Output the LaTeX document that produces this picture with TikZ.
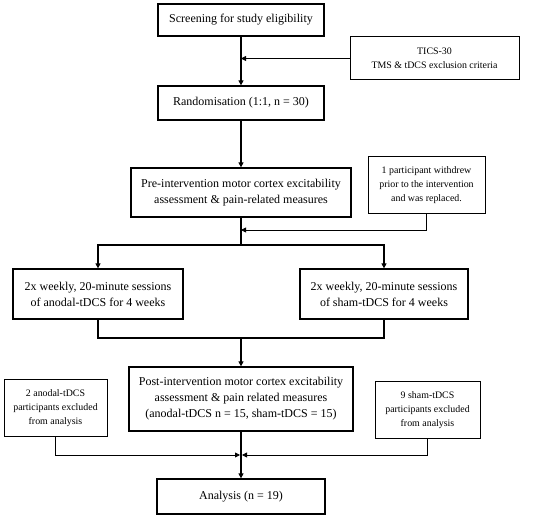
\documentclass[tikz,border=0pt]{standalone}
\usepackage{fontspec}
\setmainfont{Liberation Serif}
\usetikzlibrary{arrows.meta,positioning}

\begin{document}
\begin{tikzpicture}[x=1pt,y=-1pt,
  box/.style={draw,line width=1.3pt,align=center,inner sep=1pt,font=\fontsize{12}{16}\selectfont},
  side/.style={draw,line width=1pt,align=center,inner sep=1pt,font=\fontsize{9.9}{14}\selectfont},
  arr/.style={-{Triangle[length=5pt,width=5pt]},line width=1.2pt},
  thin arr/.style={-{Triangle[length=5pt,width=5pt]},line width=0.8pt}]
  \useasboundingbox (0,0) rectangle (550,518);
  % main column
  \node[box,minimum width=166pt,minimum height=32pt] (screen) at (241,20) {Screening for study eligibility};
  \node[box,minimum width=166pt,minimum height=34pt] (rand) at (241,103) {Randomisation (1:1, n = 30)};
  \node[box,minimum width=220pt,minimum height=49pt] (pre) at (241,192.5) {Pre-intervention motor cortex excitability\\assessment \& pain-related measures};
  \node[box,minimum width=170pt,minimum height=50pt] (anodal) at (98,294) {2x weekly, 20-minute sessions\\of anodal-tDCS for 4 weeks};
  \node[box,minimum width=168pt,minimum height=50pt] (sham) at (384,294) {2x weekly, 20-minute sessions\\of sham-tDCS for 4 weeks};
  \node[box,minimum width=224pt,minimum height=64pt] (post) at (241,399) {Post-intervention motor cortex excitability\\assessment \& pain related measures\\(anodal-tDCS n = 15, sham-tDCS = 15)};
  \node[box,minimum width=168pt,minimum height=35pt] (analysis) at (241,496.5) {Analysis (n = 19)};
  % side boxes
  \node[side,minimum width=169pt,minimum height=43pt] (tics) at (434.5,58.5) {TICS-30\\TMS \& tDCS exclusion criteria};
  \node[side,minimum width=117pt,minimum height=57pt] (withdrew) at (426.5,185.5) {1 participant withdrew\\prior to the intervention\\and was replaced.};
  \node[side,minimum width=103pt,minimum height=57pt] (exa) at (55.5,408.5) {2 anodal-tDCS\\participants excluded\\from analysis};
  \node[side,minimum width=105pt,minimum height=57pt] (exs) at (427.5,410.5) {9 sham-tDCS\\participants excluded\\from analysis};
  % junctions
  \coordinate (j1) at (241,230);
  \coordinate (split) at (241,245);
  \coordinate (merge) at (241,338);
  \coordinate (j2) at (241,455);

  \draw[arr] (screen) -- (rand);
  \draw[thin arr] (tics.west) -- (tics.west -| rand.north);
  \draw[arr] (rand) -- (pre);
  \draw[line width=1.2pt] (pre.south) -- (split);
  \draw[thin arr] (withdrew.south) |- (j1);
  \draw[arr] (split) -| (anodal.north);
  \draw[arr] (split) -| (sham.north);
  \draw[line width=1.2pt] (anodal.south) |- (merge) -| (sham.south);
  \draw[arr] (merge) -- (post.north);
  \draw[arr] (post) -- (analysis);
  \draw[thin arr] (exa.south) |- ([xshift=-1pt]j2);
  \draw[thin arr] (exs.south) |- ([xshift=1pt]j2);
\end{tikzpicture}
\end{document}
